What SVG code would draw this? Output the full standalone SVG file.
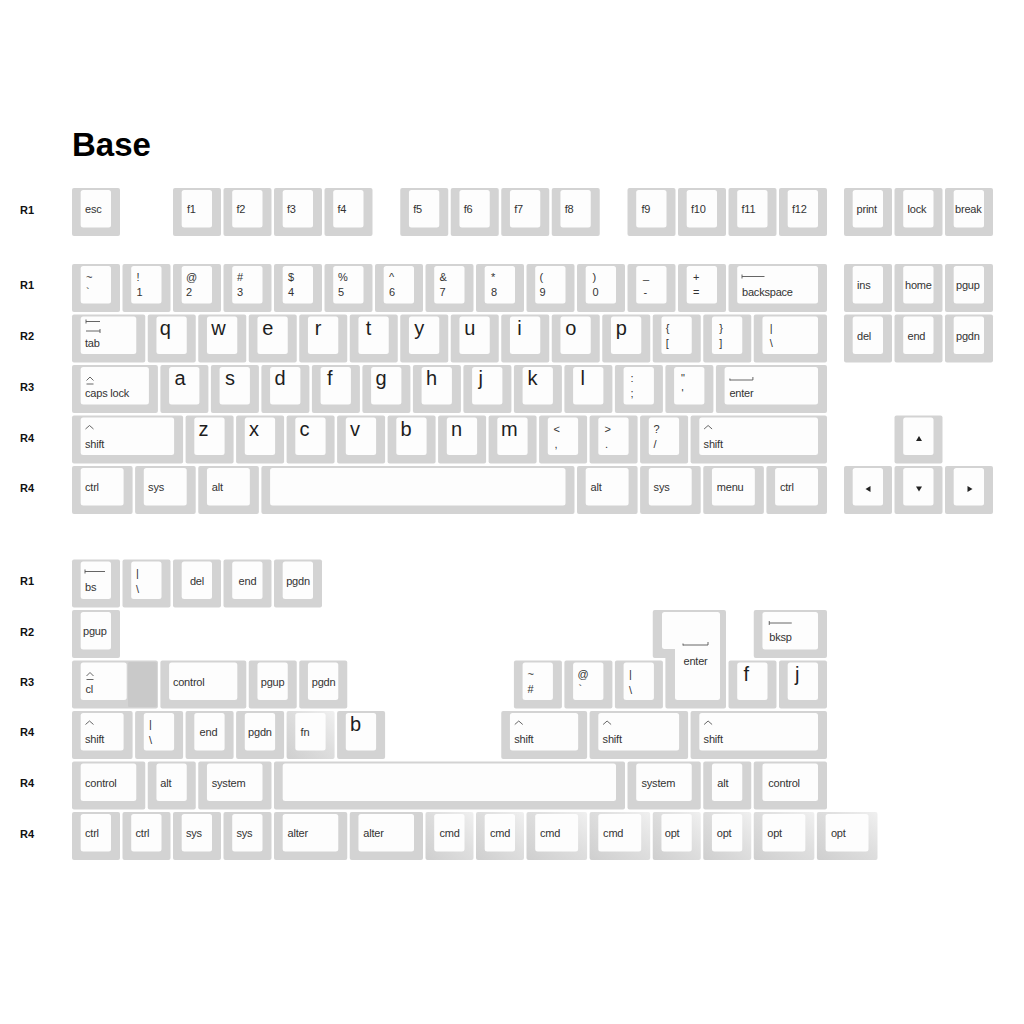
<svg xmlns="http://www.w3.org/2000/svg" xmlns:xlink="http://www.w3.org/1999/xlink" width="1024" height="1024" viewBox="0 0 1024 1024">
<style>
.o{fill:#d3d3d3}
.og{fill:url(#gk)}
.i{fill:#fdfdfd}
.t{font-family:"Liberation Sans",Arial,Helvetica,sans-serif;font-size:11px;fill:#333;letter-spacing:-0.2px}
.c{text-anchor:middle}
.L{font-family:"Liberation Sans",Arial,Helvetica,sans-serif;font-size:20px;fill:#1e1e1e}
.rl{font-family:"Liberation Sans",Arial,Helvetica,sans-serif;font-size:11px;fill:#111;font-weight:bold}
.ttl{font-family:"Liberation Sans",Arial,Helvetica,sans-serif;font-size:33px;font-weight:bold;fill:#000}
.ic{fill:none;stroke:#555;stroke-width:0.9}
.ar{fill:#222}
</style>
<defs>
<linearGradient id="gk" x1="0" y1="1" x2="1" y2="0"><stop offset="0" stop-color="#cfcfcf"/><stop offset="0.55" stop-color="#dedede"/><stop offset="1" stop-color="#f0f0f0"/></linearGradient>
<g id="w1"><rect class="o" width="48" height="48" rx="2"/><rect class="i" x="8.7" y="2" width="30.3" height="37.5" rx="2.5"/></g>
<g id="w125"><rect class="o" width="60.6" height="48" rx="2"/><rect class="i" x="8.7" y="2" width="42.9" height="37.5" rx="2.5"/></g>
<g id="w15"><rect class="o" width="73.25" height="48" rx="2"/><rect class="i" x="8.7" y="2" width="55.55" height="37.5" rx="2.5"/></g>
<g id="w175"><rect class="o" width="85.9" height="48" rx="2"/><rect class="i" x="8.7" y="2" width="68.2" height="37.5" rx="2.5"/></g>
<g id="w2"><rect class="o" width="98.5" height="48" rx="2"/><rect class="i" x="8.7" y="2" width="80.8" height="37.5" rx="2.5"/></g>
<g id="w225"><rect class="o" width="111.1" height="48" rx="2"/><rect class="i" x="8.7" y="2" width="93.4" height="37.5" rx="2.5"/></g>
<g id="w275"><rect class="o" width="136.4" height="48" rx="2"/><rect class="i" x="8.7" y="2" width="118.7" height="37.5" rx="2.5"/></g>
<g id="w625"><rect class="o" width="313.1" height="48" rx="2"/><rect class="i" x="8.7" y="2" width="295.4" height="37.5" rx="2.5"/></g>
<g id="w7"><rect class="o" width="351" height="48" rx="2"/><rect class="i" x="8.7" y="2" width="333.3" height="37.5" rx="2.5"/></g>
<g id="wcl"><rect class="o" width="85.9" height="48" rx="2"/><rect x="56" y="1.5" width="28.9" height="45" rx="1.5" fill="#c9c9c9"/><rect class="i" x="8.7" y="2" width="46" height="37.5" rx="2.5"/></g>
<g id="g1"><rect class="og" width="48" height="48" rx="2"/><rect class="i" x="8.7" y="2" width="30.3" height="37.5" rx="2.5"/></g>
<g id="g125"><rect class="og" width="60.6" height="48" rx="2"/><rect class="i" x="8.7" y="2" width="42.9" height="37.5" rx="2.5"/></g>
<path id="car" class="ic" d="M13.5 13.5 L17.5 10 L21.5 13.5"/>
</defs>

<rect width="1024" height="1024" fill="#ffffff"/>
<text class="ttl" x="72" y="156">Base</text>

<g id="row-labels">
<text class="rl" x="20" y="214">R1</text>
<text class="rl" x="20" y="289">R1</text>
<text class="rl" x="20" y="340">R2</text>
<text class="rl" x="20" y="391">R3</text>
<text class="rl" x="20" y="442">R4</text>
<text class="rl" x="20" y="492">R4</text>
<text class="rl" x="20" y="585">R1</text>
<text class="rl" x="20" y="636">R2</text>
<text class="rl" x="20" y="686">R3</text>
<text class="rl" x="20" y="736">R4</text>
<text class="rl" x="20" y="787">R4</text>
<text class="rl" x="20" y="838">R4</text>
</g>

<!-- Function row -->
<g id="k-esc" transform="translate(72 188)"><use href="#w1"/><text class="t" x="13" y="25">esc</text></g>
<g id="k-f1" transform="translate(173 188)"><use href="#w1"/><text class="t" x="14" y="25">f1</text></g>
<g id="k-f2" transform="translate(223.5 188)"><use href="#w1"/><text class="t" x="13" y="25">f2</text></g>
<g id="k-f3" transform="translate(274 188)"><use href="#w1"/><text class="t" x="13" y="25">f3</text></g>
<g id="k-f4" transform="translate(324.5 188)"><use href="#w1"/><text class="t" x="13" y="25">f4</text></g>
<g id="k-f5" transform="translate(400.25 188)"><use href="#w1"/><text class="t" x="13" y="25">f5</text></g>
<g id="k-f6" transform="translate(450.75 188)"><use href="#w1"/><text class="t" x="13" y="25">f6</text></g>
<g id="k-f7" transform="translate(501.25 188)"><use href="#w1"/><text class="t" x="13" y="25">f7</text></g>
<g id="k-f8" transform="translate(551.75 188)"><use href="#w1"/><text class="t" x="13" y="25">f8</text></g>
<g id="k-f9" transform="translate(627.5 188)"><use href="#w1"/><text class="t" x="14" y="25">f9</text></g>
<g id="k-f10" transform="translate(678 188)"><use href="#w1"/><text class="t" x="13" y="25">f10</text></g>
<g id="k-f11" transform="translate(728.5 188)"><use href="#w1"/><text class="t" x="13" y="25">f11</text></g>
<g id="k-f12" transform="translate(779 188)"><use href="#w1"/><text class="t" x="13" y="25">f12</text></g>
<g id="k-print" transform="translate(844 188)"><use href="#w1"/><text class="t" x="12.5" y="25">print</text></g>
<g id="k-lock" transform="translate(894.5 188)"><use href="#w1"/><text class="t" x="13" y="25">lock</text></g>
<g id="k-break" transform="translate(945 188)"><use href="#w1"/><text class="t" x="10" y="25">break</text></g>

<!-- Number row -->
<g id="k-tilde" transform="translate(72 264)"><use href="#w1"/><text class="t" x="14" y="17">~</text><text class="t" x="14" y="32">`</text></g>
<g id="k-1" transform="translate(122.5 264)"><use href="#w1"/><text class="t" x="14" y="17">!</text><text class="t" x="14" y="32">1</text></g>
<g id="k-2" transform="translate(173 264)"><use href="#w1"/><text class="t" x="13" y="17">@</text><text class="t" x="13" y="32">2</text></g>
<g id="k-3" transform="translate(223.5 264)"><use href="#w1"/><text class="t" x="13.5" y="17">#</text><text class="t" x="13.5" y="32">3</text></g>
<g id="k-4" transform="translate(274 264)"><use href="#w1"/><text class="t" x="14" y="17">$</text><text class="t" x="14" y="32">4</text></g>
<g id="k-5" transform="translate(324.5 264)"><use href="#w1"/><text class="t" x="13.5" y="17">%</text><text class="t" x="13.5" y="32">5</text></g>
<g id="k-6" transform="translate(375 264)"><use href="#w1"/><text class="t" x="14" y="17">^</text><text class="t" x="14" y="32">6</text></g>
<g id="k-7" transform="translate(425.5 264)"><use href="#w1"/><text class="t" x="14" y="17">&amp;</text><text class="t" x="14" y="32">7</text></g>
<g id="k-8" transform="translate(476 264)"><use href="#w1"/><text class="t" x="15" y="17">*</text><text class="t" x="15" y="32">8</text></g>
<g id="k-9" transform="translate(526.5 264)"><use href="#w1"/><text class="t" x="13" y="17">(</text><text class="t" x="13" y="32">9</text></g>
<g id="k-0" transform="translate(577 264)"><use href="#w1"/><text class="t" x="15.5" y="17">)</text><text class="t" x="15.5" y="32">0</text></g>
<g id="k-minus" transform="translate(627.5 264)"><use href="#w1"/><text class="t" x="15.5" y="15">_</text><text class="t" x="16" y="32">-</text></g>
<g id="k-equal" transform="translate(678 264)"><use href="#w1"/><text class="t" x="15" y="17">+</text><text class="t" x="15" y="32">=</text></g>
<g id="k-backspace" transform="translate(728.5 264)"><use href="#w2"/><path class="ic" d="M13.5 12.5 H36 M13.5 10.5 V14.5"/><text class="t" x="13.5" y="32">backspace</text></g>
<g id="k-ins" transform="translate(844 264)"><use href="#w1"/><text class="t" x="13" y="25">ins</text></g>
<g id="k-home" transform="translate(894.5 264)"><use href="#w1"/><text class="t" x="10.5" y="25">home</text></g>
<g id="k-pgup" transform="translate(945 264)"><use href="#w1"/><text class="t" x="11" y="25">pgup</text></g>

<!-- Tab row -->
<g id="k-tab" transform="translate(72 314.5)"><use href="#w15"/><path class="ic" d="M14 7 H28 M14 5 V9 M14 16.5 H28 M28 14.5 V18.5"/><text class="t" x="13" y="32">tab</text></g>
<g id="k-q" transform="translate(147.75 314.5)"><use href="#w1"/><text class="L" x="12" y="20">q</text></g>
<g id="k-w" transform="translate(198.25 314.5)"><use href="#w1"/><text class="L" x="13" y="20">w</text></g>
<g id="k-e" transform="translate(248.75 314.5)"><use href="#w1"/><text class="L" x="13.5" y="20">e</text></g>
<g id="k-r" transform="translate(299.25 314.5)"><use href="#w1"/><text class="L" x="15.5" y="20">r</text></g>
<g id="k-t" transform="translate(349.75 314.5)"><use href="#w1"/><text class="L" x="16" y="20">t</text></g>
<g id="k-y" transform="translate(400.25 314.5)"><use href="#w1"/><text class="L" x="14" y="20">y</text></g>
<g id="k-u" transform="translate(450.75 314.5)"><use href="#w1"/><text class="L" x="13.5" y="20">u</text></g>
<g id="k-i" transform="translate(501.25 314.5)"><use href="#w1"/><text class="L" x="16" y="20">i</text></g>
<g id="k-o" transform="translate(551.75 314.5)"><use href="#w1"/><text class="L" x="13.5" y="20">o</text></g>
<g id="k-p" transform="translate(602.25 314.5)"><use href="#w1"/><text class="L" x="13.5" y="20">p</text></g>
<g id="k-lbracket" transform="translate(652.75 314.5)"><use href="#w1"/><text class="t" x="13" y="17">{</text><text class="t" x="13" y="32">[</text></g>
<g id="k-rbracket" transform="translate(703.25 314.5)"><use href="#w1"/><text class="t" x="16" y="17">}</text><text class="t" x="16" y="32">]</text></g>
<g id="k-backslash" transform="translate(753.75 314.5)"><use href="#w15"/><text class="t" x="16" y="17">|</text><text class="t" x="16" y="32">\</text></g>
<g id="k-del" transform="translate(844 314.5)"><use href="#w1"/><text class="t" x="13" y="25">del</text></g>
<g id="k-end" transform="translate(894.5 314.5)"><use href="#w1"/><text class="t" x="13" y="25">end</text></g>
<g id="k-pgdn" transform="translate(945 314.5)"><use href="#w1"/><text class="t" x="11" y="25">pgdn</text></g>

<!-- Caps row -->
<g id="k-caps" transform="translate(72 365)"><use href="#w175"/><path class="ic" d="M14.5 15.5 L18 12 L21.5 15.5 M14.5 19 H21.5"/><text class="t" x="13" y="32">caps lock</text></g>
<g id="k-a" transform="translate(160.4 365)"><use href="#w1"/><text class="L" x="14" y="20">a</text></g>
<g id="k-s" transform="translate(210.9 365)"><use href="#w1"/><text class="L" x="14" y="20">s</text></g>
<g id="k-d" transform="translate(261.4 365)"><use href="#w1"/><text class="L" x="13" y="20">d</text></g>
<g id="k-f" transform="translate(311.9 365)"><use href="#w1"/><text class="L" x="15" y="20">f</text></g>
<g id="k-g" transform="translate(362.4 365)"><use href="#w1"/><text class="L" x="13" y="20">g</text></g>
<g id="k-h" transform="translate(412.9 365)"><use href="#w1"/><text class="L" x="13" y="20">h</text></g>
<g id="k-j" transform="translate(463.4 365)"><use href="#w1"/><text class="L" x="15" y="20">j</text></g>
<g id="k-k" transform="translate(513.9 365)"><use href="#w1"/><text class="L" x="13.5" y="20">k</text></g>
<g id="k-l" transform="translate(564.4 365)"><use href="#w1"/><text class="L" x="16" y="20">l</text></g>
<g id="k-semicolon" transform="translate(614.9 365)"><use href="#w1"/><text class="t" x="15.5" y="17">:</text><text class="t" x="15.5" y="32">;</text></g>
<g id="k-quote" transform="translate(665.4 365)"><use href="#w1"/><text class="t" x="15.5" y="17">"</text><text class="t" x="16" y="32">'</text></g>
<g id="k-enter" transform="translate(715.9 365)"><use href="#w225"/><path class="ic" d="M14 15 H37 M14 13.5 V15.5 M37 12 V15"/><text class="t" x="13.5" y="32">enter</text></g>

<!-- Shift row -->
<g id="k-lshift" transform="translate(72 415.5)"><use href="#w225"/><use href="#car"/><text class="t" x="13" y="32">shift</text></g>
<g id="k-z" transform="translate(185.6 415.5)"><use href="#w1"/><text class="L" x="13" y="20">z</text></g>
<g id="k-x" transform="translate(236.1 415.5)"><use href="#w1"/><text class="L" x="13" y="20">x</text></g>
<g id="k-c" transform="translate(286.6 415.5)"><use href="#w1"/><text class="L" x="13" y="20">c</text></g>
<g id="k-v" transform="translate(337.1 415.5)"><use href="#w1"/><text class="L" x="13" y="20">v</text></g>
<g id="k-b" transform="translate(387.6 415.5)"><use href="#w1"/><text class="L" x="13" y="20">b</text></g>
<g id="k-n" transform="translate(438.1 415.5)"><use href="#w1"/><text class="L" x="13" y="20">n</text></g>
<g id="k-m" transform="translate(488.6 415.5)"><use href="#w1"/><text class="L" x="12.5" y="20">m</text></g>
<g id="k-comma" transform="translate(539.1 415.5)"><use href="#w1"/><text class="t" x="14.5" y="17">&lt;</text><text class="t" x="15.5" y="32">,</text></g>
<g id="k-period" transform="translate(589.6 415.5)"><use href="#w1"/><text class="t" x="15" y="17">&gt;</text><text class="t" x="15.5" y="32">.</text></g>
<g id="k-slash" transform="translate(640.1 415.5)"><use href="#w1"/><text class="t" x="13.5" y="17">?</text><text class="t" x="13.5" y="32">/</text></g>
<g id="k-rshift" transform="translate(690.6 415.5)"><use href="#w275"/><use href="#car"/><text class="t" x="13" y="32">shift</text></g>
<g id="k-up" transform="translate(894.5 415.5)"><use href="#w1"/><polygon class="ar" points="21.5,25.5 24.5,20.5 27.5,25.5"/></g>

<!-- Bottom row -->
<g id="k-lctrl" transform="translate(72 466)"><use href="#w125"/><text class="t" x="13" y="25">ctrl</text></g>
<g id="k-lsys" transform="translate(135.1 466)"><use href="#w125"/><text class="t" x="13" y="25">sys</text></g>
<g id="k-lalt" transform="translate(198.25 466)"><use href="#w125"/><text class="t" x="13.5" y="25">alt</text></g>
<g id="k-space" transform="translate(261.4 466)"><use href="#w625"/></g>
<g id="k-ralt" transform="translate(577 466)"><use href="#w125"/><text class="t" x="13.5" y="25">alt</text></g>
<g id="k-rsys" transform="translate(640.1 466)"><use href="#w125"/><text class="t" x="13.5" y="25">sys</text></g>
<g id="k-menu" transform="translate(703.25 466)"><use href="#w125"/><text class="t" x="13.5" y="25">menu</text></g>
<g id="k-rctrl" transform="translate(766.4 466)"><use href="#w125"/><text class="t" x="13.5" y="25">ctrl</text></g>
<g id="k-left" transform="translate(844 466)"><use href="#w1"/><polygon class="ar" points="21.5,23 26.5,20 26.5,26"/></g>
<g id="k-down" transform="translate(894.5 466)"><use href="#w1"/><polygon class="ar" points="21.5,20.5 27.5,20.5 24.5,25.5"/></g>
<g id="k-right" transform="translate(945 466)"><use href="#w1"/><polygon class="ar" points="22.5,20 27.5,23 22.5,26"/></g>

<!-- Extra keys: R1 -->
<g id="x-bs" transform="translate(72 559.5)"><use href="#w1"/><path class="ic" d="M13 12 H33 M13 10 V14"/><text class="t" x="13" y="31">bs</text></g>
<g id="x-backslash1" transform="translate(122.5 559.5)"><use href="#w1"/><text class="t" x="13.5" y="17">|</text><text class="t" x="13.5" y="33">\</text></g>
<g id="x-del" transform="translate(173 559.5)"><use href="#w1"/><text class="t c" x="24" y="25">del</text></g>
<g id="x-end1" transform="translate(223.5 559.5)"><use href="#w1"/><text class="t c" x="24" y="25">end</text></g>
<g id="x-pgdn1" transform="translate(274 559.5)"><use href="#w1"/><text class="t c" x="24" y="25">pgdn</text></g>

<!-- Extra keys: R2 -->
<g id="x-pgup1" transform="translate(72 610)"><use href="#w1"/><text class="t" x="11" y="25">pgup</text></g>
<g id="x-isoenter">
<path class="o" d="M654.75 610 H724 Q726 610 726 612 V706.5 Q726 708.5 724 708.5 H667.4 Q665.4 708.5 665.4 706.5 V658 H654.75 Q652.75 658 652.75 656 V612 Q652.75 610 654.75 610 Z"/>
<path class="i" d="M664.5 612 H717.5 Q720 612 720 614.5 V697.5 Q720 700 717.5 700 H677.5 Q675 700 675 697.5 V649 H664.5 Q662 649 662 646.5 V614.5 Q662 612 664.5 612 Z"/>
<path class="ic" d="M683 645 H708 M683 643.5 V645.5 M708 642 V645"/>
<text class="t" x="683.5" y="665">enter</text>
</g>
<g id="x-bksp" transform="translate(753.75 610)"><use href="#w15"/><path class="ic" d="M15.5 13 H38 M15.5 11 V15"/><text class="t" x="15.5" y="31">bksp</text></g>

<!-- Extra keys: R3 -->
<g id="x-cl" transform="translate(72 660.5)"><use href="#wcl"/><path class="ic" d="M14.5 15.5 L18 12 L21.5 15.5 M14.5 19 H21.5"/><text class="t" x="13.5" y="32">cl</text></g>
<g id="x-control1" transform="translate(160.4 660.5)"><use href="#w175"/><text class="t" x="12.5" y="25">control</text></g>
<g id="x-pgup2" transform="translate(248.75 660.5)"><use href="#w1"/><text class="t" x="12" y="25">pgup</text></g>
<g id="x-pgdn2" transform="translate(299.25 660.5)"><use href="#w1"/><text class="t" x="12.5" y="25">pgdn</text></g>
<g id="x-tildehash" transform="translate(513.9 660.5)"><use href="#w1"/><text class="t" x="13.5" y="17">~</text><text class="t" x="13.5" y="32">#</text></g>
<g id="x-atgrave" transform="translate(564.4 660.5)"><use href="#w1"/><text class="t" x="13" y="17">@</text><text class="t" x="14" y="32">`</text></g>
<g id="x-backslash2" transform="translate(614.9 660.5)"><use href="#w1"/><text class="t" x="14" y="17">|</text><text class="t" x="14" y="33">\</text></g>
<g id="x-f" transform="translate(728.5 660.5)"><use href="#w1"/><text class="L" x="15" y="20">f</text></g>
<g id="x-j" transform="translate(779 660.5)"><use href="#w1"/><text class="L" x="16" y="20">j</text></g>

<!-- Extra keys: R4 -->
<g id="x-shift1" transform="translate(72 711)"><use href="#w125"/><use href="#car"/><text class="t" x="13" y="32">shift</text></g>
<g id="x-backslash3" transform="translate(135.1 711)"><use href="#w1"/><text class="t" x="14" y="17">|</text><text class="t" x="14" y="33">\</text></g>
<g id="x-end2" transform="translate(185.6 711)"><use href="#w1"/><text class="t" x="14" y="25">end</text></g>
<g id="x-pgdn3" transform="translate(236.1 711)"><use href="#w1"/><text class="t" x="12" y="25">pgdn</text></g>
<g id="x-fn" transform="translate(286.6 711)"><use href="#g1"/><text class="t" x="14" y="25">fn</text></g>
<g id="x-b" transform="translate(337.1 711)"><use href="#w1"/><text class="L" x="13" y="20">b</text></g>
<g id="x-shift2" transform="translate(501.25 711)"><use href="#w175"/><use href="#car"/><text class="t" x="13" y="32">shift</text></g>
<g id="x-shift3" transform="translate(589.6 711)"><use href="#w2"/><use href="#car"/><text class="t" x="13" y="32">shift</text></g>
<g id="x-shift4" transform="translate(690.6 711)"><use href="#w275"/><use href="#car"/><text class="t" x="13" y="32">shift</text></g>

<!-- Extra keys: R5 -->
<g id="x-control2" transform="translate(72 761.5)"><use href="#w15"/><text class="t" x="13" y="25">control</text></g>
<g id="x-alt1" transform="translate(147.75 761.5)"><use href="#w1"/><text class="t" x="12.5" y="25">alt</text></g>
<g id="x-system1" transform="translate(198.25 761.5)"><use href="#w15"/><text class="t" x="13.5" y="25">system</text></g>
<g id="x-space" transform="translate(274 761.5)"><use href="#w7"/></g>
<g id="x-system2" transform="translate(627.5 761.5)"><use href="#w15"/><text class="t" x="14" y="25">system</text></g>
<g id="x-alt2" transform="translate(703.25 761.5)"><use href="#w1"/><text class="t" x="14" y="25">alt</text></g>
<g id="x-control3" transform="translate(753.75 761.5)"><use href="#w15"/><text class="t" x="14.5" y="25">control</text></g>

<!-- Extra keys: R6 -->
<g id="x-ctrl1" transform="translate(72 812)"><use href="#w1"/><text class="t" x="13" y="25">ctrl</text></g>
<g id="x-ctrl2" transform="translate(122.5 812)"><use href="#w1"/><text class="t" x="13" y="25">ctrl</text></g>
<g id="x-sys1" transform="translate(173 812)"><use href="#w1"/><text class="t" x="13" y="25">sys</text></g>
<g id="x-sys2" transform="translate(223.5 812)"><use href="#w1"/><text class="t" x="13" y="25">sys</text></g>
<g id="x-alter1" transform="translate(274 812)"><use href="#w15"/><text class="t" x="13.5" y="25">alter</text></g>
<g id="x-alter2" transform="translate(349.75 812)"><use href="#w15"/><text class="t" x="13.5" y="25">alter</text></g>
<g id="x-cmd1" transform="translate(425.5 812)"><use href="#g1"/><text class="t" x="14" y="25">cmd</text></g>
<g id="x-cmd2" transform="translate(476 812)"><use href="#g1"/><text class="t" x="14" y="25">cmd</text></g>
<g id="x-cmd3" transform="translate(526.5 812)"><use href="#g125"/><text class="t" x="13.5" y="25">cmd</text></g>
<g id="x-cmd4" transform="translate(589.6 812)"><use href="#g125"/><text class="t" x="13.5" y="25">cmd</text></g>
<g id="x-opt1" transform="translate(652.75 812)"><use href="#g1"/><text class="t" x="12" y="25">opt</text></g>
<g id="x-opt2" transform="translate(703.25 812)"><use href="#g1"/><text class="t" x="13.5" y="25">opt</text></g>
<g id="x-opt3" transform="translate(753.75 812)"><use href="#g125"/><text class="t" x="13.5" y="25">opt</text></g>
<g id="x-opt4" transform="translate(816.9 812)"><use href="#g125"/><text class="t" x="14" y="25">opt</text></g>
</svg>
